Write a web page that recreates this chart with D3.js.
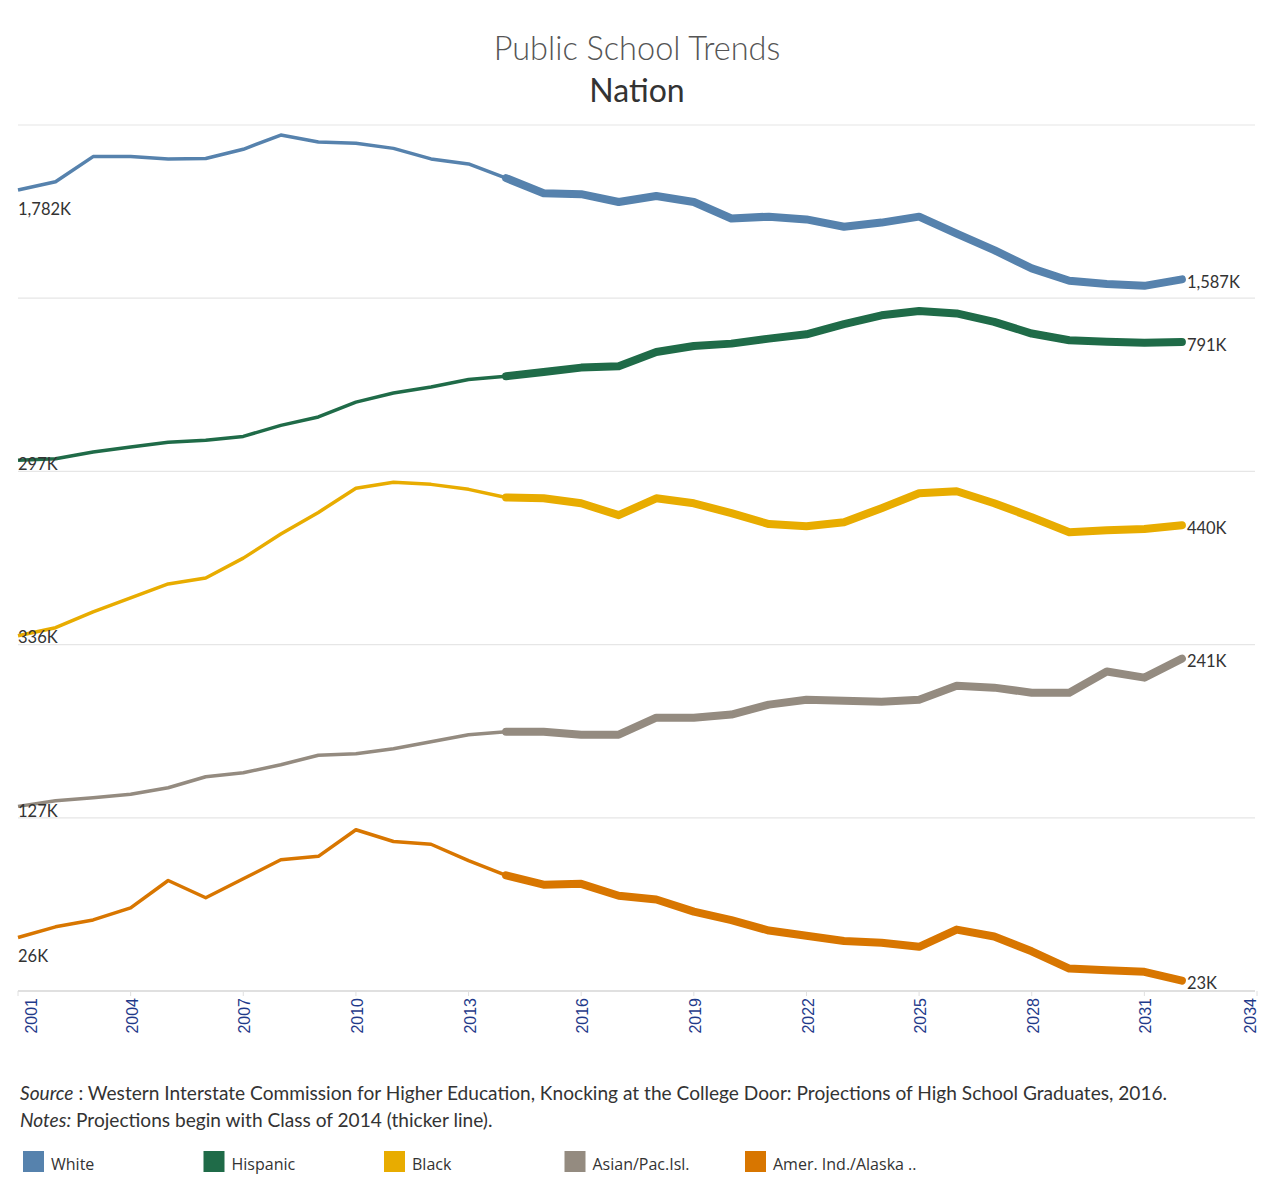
<!DOCTYPE html>
<html>
<head>
<meta charset="utf-8">
<script src="https://cdn.jsdelivr.net/npm/d3@7"></script>
<style>
  body { margin: 0; background: #fff; }
  svg { display: block; font-family: "Lato", "Open Sans", sans-serif; }
</style>
</head>
<body>
<div id="chart"></div>
<script>
// years 2001-2032, projections start 2014
const years = d3.range(2001, 2033);
const projStart = 2014;

const groups = ['White', 'Hispanic', 'Black', 'Asian/Pac.Isl.', 'Amer. Ind./Alaska ..'];
const colors = ['#5682ad', '#1f6b48', '#e8ac00', '#948b80', '#d87600'];

// graduates, thousands
const white = [1782, 1800, 1855, 1855, 1850, 1851, 1871, 1902, 1887, 1884, 1873, 1850, 1839, 1808, 1775, 1773,
  1756, 1769, 1756, 1720, 1724, 1718, 1702, 1711, 1724, 1687, 1651, 1611, 1584, 1577, 1573, 1587];
const hispanic = [297, 304, 332, 353, 373, 381, 397, 443, 478, 540, 578, 603, 634, 648, 666, 684,
  690, 749, 774, 784, 805, 823, 865, 902, 920, 910, 875, 826, 798, 792, 788, 791];
const black = [336, 343.5, 358.5, 371.6, 384.7, 390.3, 409, 431.6, 452, 474.7, 480.3, 478.4, 473.7, 466, 465.3, 460.6,
  449.4, 465.3, 460.6, 451.3, 441, 439, 442.8, 456, 470, 471.9, 460.6, 447.5, 433.4, 435.3, 436.3, 440];
const asian = [127, 131.3, 133.6, 136.3, 141.4, 149.9, 153, 159.1, 166.5, 167.6, 171.5, 176.9, 182.3, 184.6, 184.6, 182.3,
  182.3, 195.4, 195.4, 197.8, 205.5, 209.3, 208.5, 207.8, 209.3, 220.1, 218.6, 214.7, 214.7, 231, 226.3, 241];
const amerInd = [26, 26.74, 27.22, 28.06, 29.96, 28.76, 30.08, 31.4, 31.64, 33.49, 32.67, 32.48, 31.35, 30.32, 29.67, 29.73,
  28.9, 28.64, 27.8, 27.2, 26.48, 26.12, 25.76, 25.64, 25.35, 26.55, 26.07, 25.04, 23.84, 23.72, 23.61, 23.0];

// each pane has its own value range (tableau independent axes)
const paneDomains = [[1546, 1924], [251, 973.5], [327.6, 490.6], [118.2, 251.8], [22.28, 34.32]];
const series = [white, hispanic, black, asian, amerInd];

const xTicks = d3.range(2001, 2035, 3);

const width = 1274, height = 1199;
const left = 18, right = 1257;
const paneTop = 125, paneH = 173.2;

const svg = d3.select('#chart').append('svg')
  .attr('width', width)
  .attr('height', height);

// title
svg.append('text')
  .attr('x', 637).attr('y', 60)
  .attr('text-anchor', 'middle')
  .style('font-size', '32.5px')
  .style('font-weight', 300)
  .attr('fill', '#555')
  .text('Public School Trends');
svg.append('text')
  .attr('x', 637).attr('y', 102)
  .attr('text-anchor', 'middle')
  .style('font-size', '32px')
  .style('font-weight', 400)
  .attr('fill', '#333')
  .text('Nation');

const x = d3.scaleLinear().domain([2001, 2034]).range([left, right]);

// pane separators
d3.range(6).forEach(i => {
  svg.append('line')
    .attr('x1', left).attr('x2', 1255)
    .attr('y1', paneTop + i * paneH).attr('y2', paneTop + i * paneH)
    .attr('stroke', i === 5 ? '#e0e0e0' : '#e6e6e6')
    .attr('stroke-width', i === 5 ? 2 : 1.2);
});

const fmt = v => d3.format(',')(Math.round(v)) + 'K';

series.forEach((vals, i) => {
  const top = paneTop + i * paneH;
  const bottom = top + paneH;
  const y = d3.scaleLinear().domain(paneDomains[i]).range([bottom, top]);
  const pts = years.map((yr, j) => ({ yr, v: vals[j] }));

  const line = d3.line().x(d => x(d.yr)).y(d => y(d.v));

  // historic part
  svg.append('path')
    .attr('d', line(pts.filter(d => d.yr <= projStart)))
    .attr('fill', 'none')
    .attr('stroke', colors[i])
    .attr('stroke-width', 3.5)
    .attr('stroke-linejoin', 'round');

  // projected part (thicker)
  svg.append('path')
    .attr('d', line(pts.filter(d => d.yr >= projStart)))
    .attr('fill', 'none')
    .attr('stroke', colors[i])
    .attr('stroke-width', 8)
    .attr('stroke-linejoin', 'round')
    .attr('stroke-linecap', 'round');

  // first / last value labels
  const first = pts[0], last = pts[pts.length - 1];
  svg.append('text')
    .attr('x', left)
    .attr('y', Math.min(y(first.v) + 19, bottom - 7))
    .attr('dy', '0.35em')
    .style('font-size', '16.5px')
    .attr('fill', '#333')
    .text(fmt(first.v));
  svg.append('text')
    .attr('x', x(last.yr) + 5)
    .attr('y', y(last.v) + 3)
    .attr('dy', '0.35em')
    .style('font-size', '16.5px')
    .attr('fill', '#333')
    .text(fmt(last.v));
});

// x axis
const axisY = paneTop + 5 * paneH;
const xg = svg.append('g');
xTicks.forEach(t => {
  xg.append('line')
    .attr('x1', x(t)).attr('x2', x(t))
    .attr('y1', axisY).attr('y2', axisY + 5)
    .attr('stroke', '#e0e0e0');
  const cx = Math.min(Math.max(x(t) + 1.5, 31), 1250);
  xg.append('text')
    .attr('transform', `translate(${cx},${axisY + 7}) rotate(-90)`)
    .attr('dy', '0.35em')
    .attr('text-anchor', 'end')
    .style('font-family', '"Liberation Sans", Arial, sans-serif')
    .style('font-size', '16px')
    .attr('fill', '#1f3a8a')
    .text(t);
});

// footer notes, sized to span the same width as the original
const src = svg.append('text')
  .attr('x', 20).attr('y', 1100)
  .style('font-size', '17px')
  .attr('fill', '#333');
src.append('tspan').style('font-style', 'italic').text('Source');
src.append('tspan').text(' : Western Interstate Commission for Higher Education, Knocking at the College Door: Projections of High School Graduates, 2016.');
const srcLen = src.node().getComputedTextLength();
const fs = 17 * 1148 / srcLen;
src.style('font-size', fs + 'px');

const notes = svg.append('text')
  .attr('x', 20).attr('y', 1127)
  .style('font-size', fs + 'px')
  .attr('fill', '#333');
notes.append('tspan').style('font-style', 'italic').text('Notes:');
notes.append('tspan').text(' Projections begin with Class of 2014 (thicker line).');

// legend
groups.forEach((g, i) => {
  const lx = 23 + i * 180.5;
  svg.append('rect')
    .attr('x', lx).attr('y', 1151)
    .attr('width', 21).attr('height', 21)
    .attr('fill', colors[i]);
  svg.append('text')
    .attr('x', lx + 28).attr('y', 1164)
    .attr('dy', '0.35em')
    .style('font-family', '"Open Sans", sans-serif')
    .style('font-size', '16px')
    .attr('fill', '#333')
    .text(g);
});
</script>
</body>
</html>
